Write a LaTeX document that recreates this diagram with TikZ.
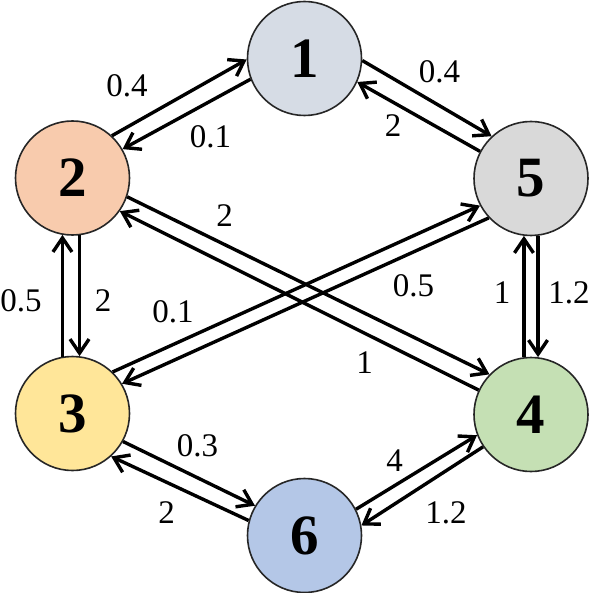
\documentclass[tikz,border=0pt]{standalone}
\usepackage{fontspec}
\setmainfont{Liberation Serif}
\usepackage{xcolor}
\usetikzlibrary{positioning, arrows.meta}

\definecolor{grayblue}{HTML}{D6DCE5}
\definecolor{peach}{HTML}{F8CBAD}
\definecolor{lightgray}{HTML}{D9D9D9}
\definecolor{paleyellow}{HTML}{FFE699}
\definecolor{palegreen}{HTML}{C5E0B4}
\definecolor{paleblue}{HTML}{B4C7E7}

\begin{document}
\begin{tikzpicture}[
    x=1pt, y=-1pt,
    state/.style={circle, draw=black!85, line width=1.6pt, minimum size=114pt,
                  inner sep=0pt, font=\fontsize{57}{57}\selectfont\bfseries},
    arr/.style={-{Straight Barb[length=14pt,width=19pt]}, line width=3.4pt},
    wt/.style={font=\fontsize{33}{33}\selectfont, inner sep=1pt}
]
\useasboundingbox (0,0) rectangle (591,593);

% states
\node[state, fill=grayblue]   (n1) at (304.5,58.5)  {1};
\node[state, fill=peach]      (n2) at (72.5,178)    {2};
\node[state, fill=lightgray]  (n5) at (531,178.5)   {5};
\node[state, fill=paleyellow] (n3) at (72.5,413.5)  {3};
\node[state, fill=palegreen]  (n4) at (531,414.5)   {4};
\node[state, fill=paleblue]   (n6) at (304.5,535.5) {6};

% transitions
\draw[arr] (n2.47)  -- (n1.181);
\draw[arr] (n1.201) -- (n2.30);
\draw[arr] (n1.358) -- (n5.133);
\draw[arr] (n5.152) -- (n1.336);
\draw[arr] (n3.100) -- (n2.260);
\draw[arr] (n2.277) -- (n3.83);
\draw[arr] (n4.97)  -- (n5.263);
\draw[arr] (n5.277) -- (n4.83);
\draw[arr] (n2.341) -- (n4.136);
\draw[arr] (n4.155) -- (n2.325);
\draw[arr] (n3.46)  -- (n5.208);
\draw[arr] (n5.223) -- (n3.31);
\draw[arr] (n3.331) -- (n6.149);
\draw[arr] (n6.165) -- (n3.312);
\draw[arr] (n6.27)  -- (n4.201);
\draw[arr] (n4.214) -- (n6.10);

% rates
\node[wt] (w21) at (127,86)    {0.4};
\node[wt] (w12) at (210.5,137) {0.1};
\node[wt] (w15) at (439.5,72)  {0.4};
\node[wt] (w51) at (393,126)   {2};
\node[wt] (w32) at (21,301)    {0.5};
\node[wt] (w23) at (103,301)   {2};
\node[wt] (w45) at (502,293)   {1};
\node[wt] (w54) at (569,293)   {1.2};
\node[wt] (w24) at (224.5,216) {2};
\node[wt] (w42) at (364.5,363) {1};
\node[wt] (w35) at (173,312)   {0.1};
\node[wt] (w53) at (413.5,286) {0.5};
\node[wt] (w36) at (197.5,446) {0.3};
\node[wt] (w63) at (166.5,513) {2};
\node[wt] (w64) at (394.5,461) {4};
\node[wt] (w46) at (446,513)   {1.2};
\end{tikzpicture}
\end{document}
